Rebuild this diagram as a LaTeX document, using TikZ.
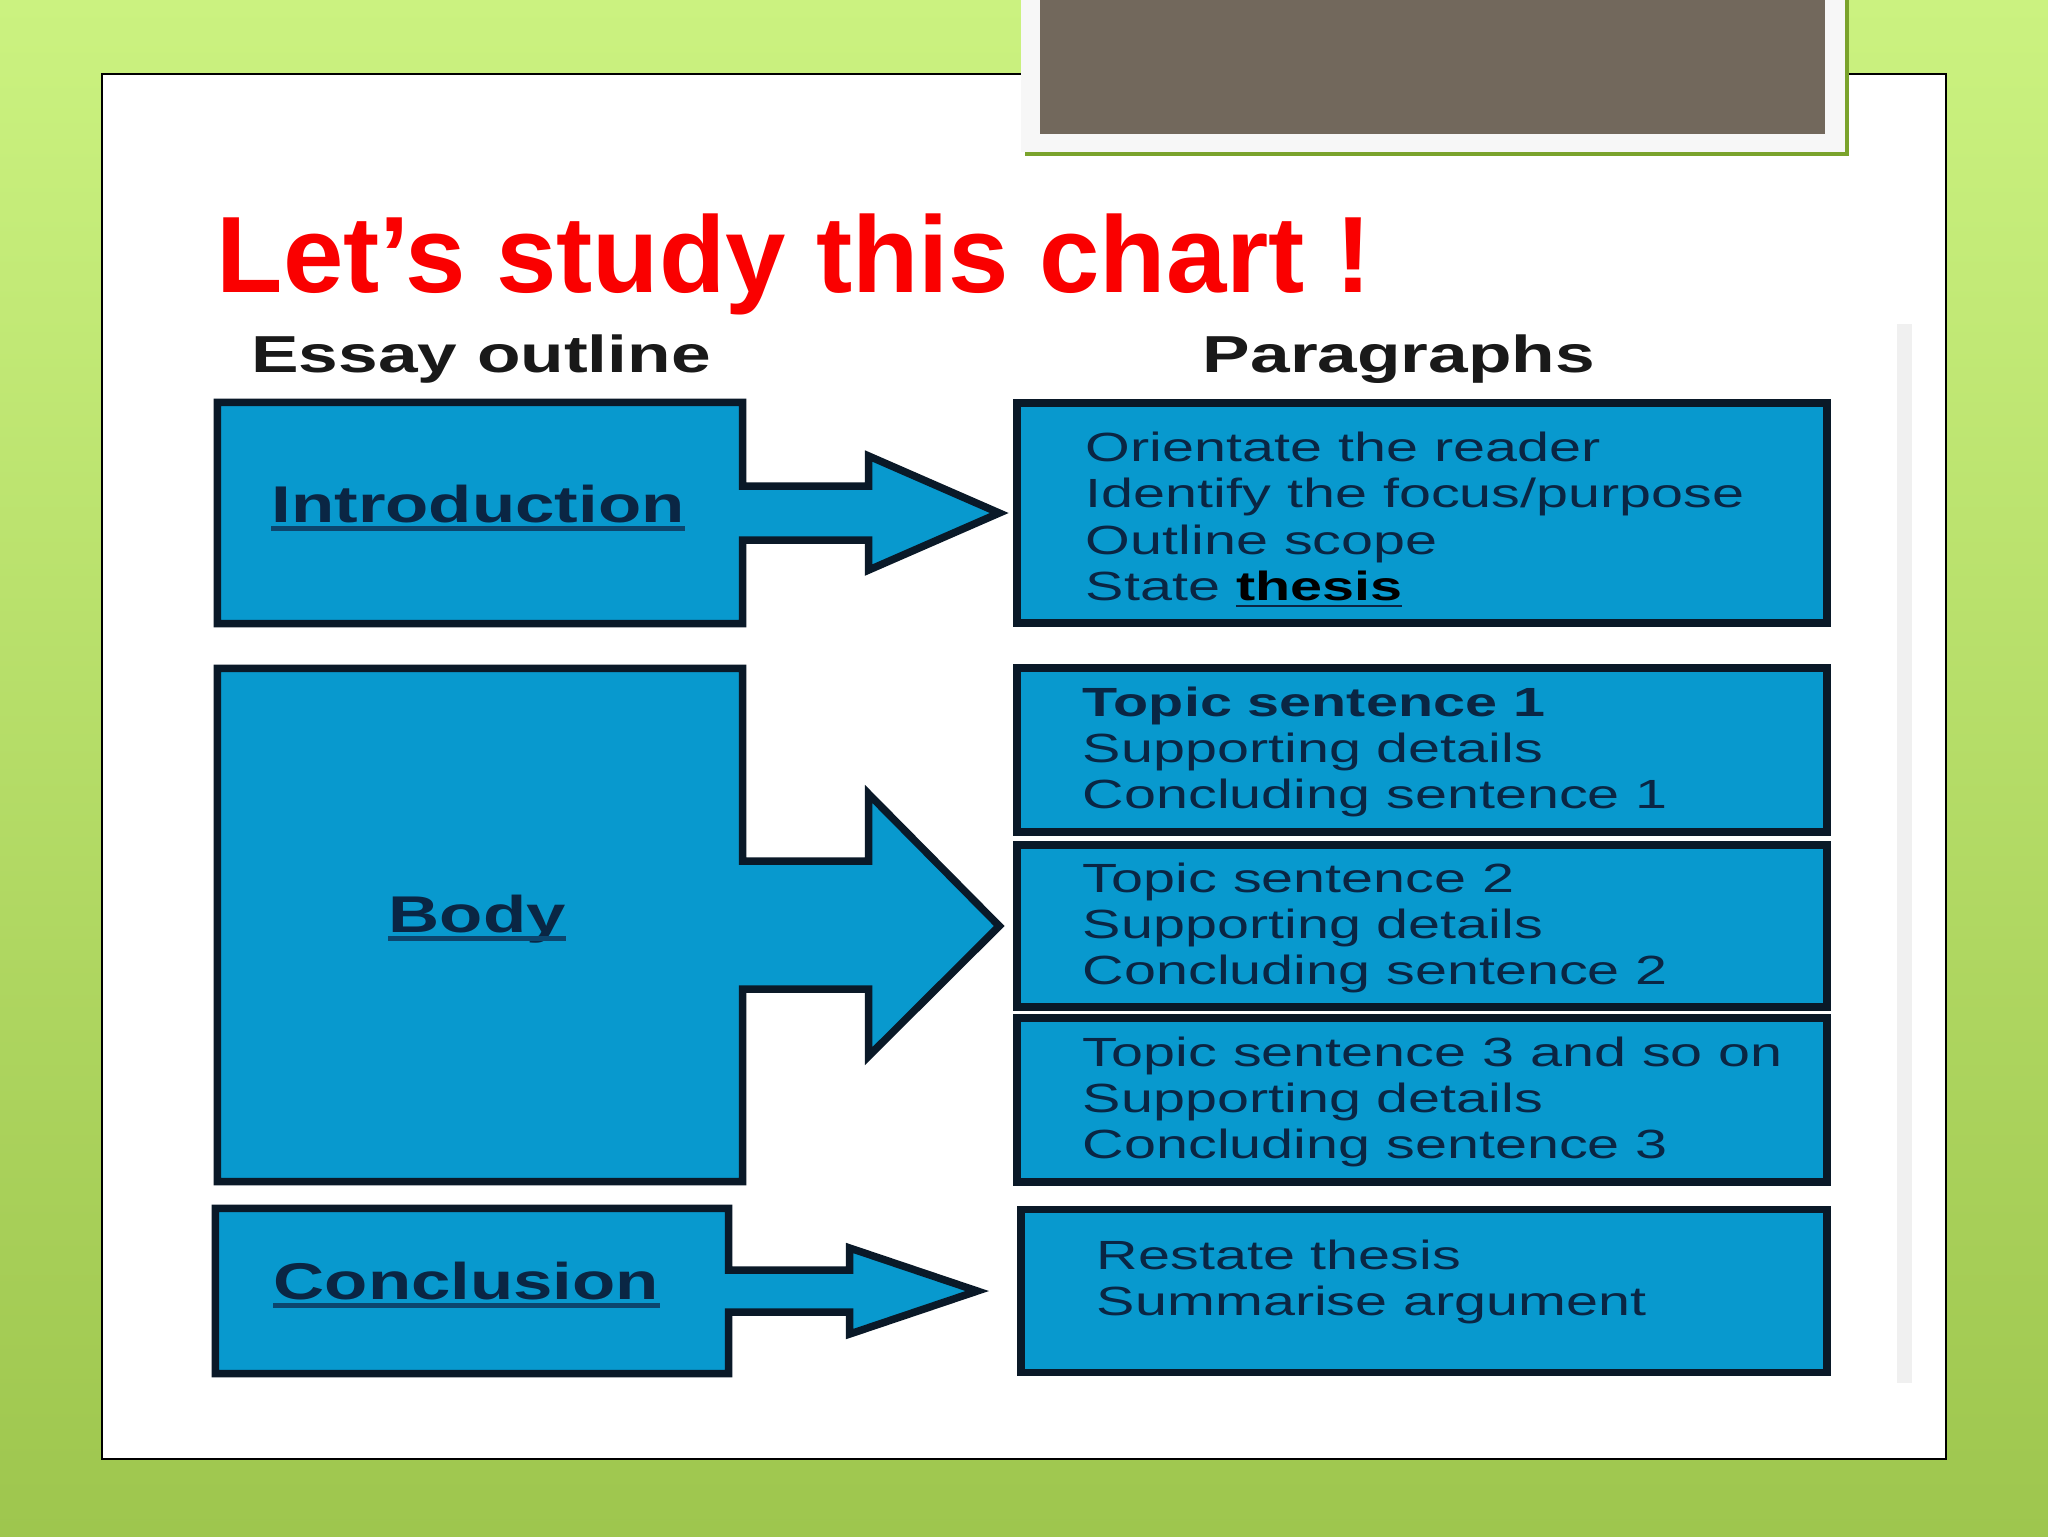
\documentclass[tikz,border=0pt]{standalone}
\usepackage{fontspec}
\setmainfont{Liberation Sans}
\newfontfamily\widefont[FakeStretch=1.37]{Liberation Sans}
\newfontfamily\parafont[FakeStretch=1.41]{Liberation Sans}
\usetikzlibrary{positioning, calc}

\definecolor{boxblue}{RGB}{8,153,206}
\definecolor{boxline}{RGB}{10,25,40}
\definecolor{boxtext}{RGB}{10,38,68}
\definecolor{ulblue}{RGB}{12,70,110}
\definecolor{titlered}{RGB}{250,0,0}
\definecolor{slidetop}{RGB}{203,242,128}
\definecolor{slidebot}{RGB}{158,198,78}
\definecolor{framegray}{RGB}{114,104,92}
\definecolor{frameshadow}{RGB}{122,163,44}

\pgfdeclarelayer{back}
\pgfdeclarelayer{shapes}
\pgfsetlayers{back,shapes,main}

\begin{document}
\begin{tikzpicture}[x=0.1mm, y=-0.1mm,
    outline/.style={fill=boxblue, draw=boxline, line width=0.75mm, line join=miter},
    leftbox/.style={minimum width=52.4mm, inner sep=0pt},
    rightbox/.style={outline, minimum width=81mm, inner sep=0pt},
    lefttext/.style={anchor=base west, inner sep=0pt, text=boxtext, font=\widefont\bfseries\fontsize{14.7}{17}\selectfont},
    paratext/.style={anchor=west, inner sep=0pt, align=left, text=boxtext, font=\parafont\fontsize{11.6}{13.2}\selectfont},
    heading/.style={anchor=base, inner sep=0pt, text=black!90, font=\widefont\bfseries\fontsize{14.8}{16}\selectfont},
    uline/.style={draw=ulblue, line width=0.5mm}]
        \useasboundingbox (0,0) rectangle (2048,1536);

        % Slide background and photo frame
        \begin{pgfonlayer}{back}
            \shade[top color=slidetop, bottom color=slidebot] (0,0) rectangle (2048,1536);
            \fill[white] (102,74) rectangle (1946,1459);
            \draw[black, line width=0.25mm] (102,74) rectangle (1946,1459);
            \fill[black!6] (1897,324) rectangle (1912,1383);
            \fill[frameshadow] (1025,0) rectangle (1849,156);
            \fill[black!3] (1021,0) rectangle (1845,152);
            \fill[framegray] (1040,0) rectangle (1825,134);
        \end{pgfonlayer}

        \node[anchor=base west, inner sep=0pt, text=titlered, font=\bfseries\fontsize{30.9}{32}\selectfont] (title) at (216,292) {Let’s study this chart !};

        \node[heading] (outlinehd) at (481,372) {Essay outline};
        \node[heading] (parahd) at (1399,372) {Paragraphs};

        % Essay outline column
        \node[leftbox, minimum height=22mm] (intro) at (480,513) {};
        \node[leftbox, minimum height=51.2mm] (body) at (480,925) {};
        \node[leftbox, minimum width=51.2mm, minimum height=16.4mm] (concl) at (472,1291) {};

        % Paragraphs column
        \node[rightbox, minimum height=22mm] (introR) at (1422,513) {};
        \node[rightbox, minimum height=16.4mm] (b1) at (1422,750) {};
        \node[rightbox, minimum height=16.2mm] (b2) at (1422,926) {};
        \node[rightbox, minimum height=16.4mm] (b3) at (1422,1100) {};
        \node[rightbox, minimum width=80.6mm, minimum height=16.3mm] (concR) at (1424,1291) {};

        % Boxes with block arrows
        \begin{pgfonlayer}{shapes}
            \draw[outline] (intro.north west) -- (intro.north east) -- ($(intro.east)+(0,-27)$)
                -- ($(intro.east)+(126,-27)$) -- ($(intro.east)+(126,-57)$) -- ($(introR.west)+(-14,0)$)
                -- ($(intro.east)+(126,57)$) -- ($(intro.east)+(126,27)$) -- ($(intro.east)+(0,27)$)
                -- (intro.south east) -- (intro.south west) -- cycle;
            \draw[outline] (body.north west) -- (body.north east) -- ($(body.east)+(0,-64)$)
                -- ($(body.east)+(126,-64)$) -- ($(body.east)+(126,-131)$) -- ($(b2.west)+(-14,0)$)
                -- ($(body.east)+(126,131)$) -- ($(body.east)+(126,64)$) -- ($(body.east)+(0,64)$)
                -- (body.south east) -- (body.south west) -- cycle;
            \draw[outline] (concl.north west) -- (concl.north east) -- ($(concl.east)+(0,-21)$)
                -- ($(concl.east)+(121,-21)$) -- ($(concl.east)+(121,-43)$) -- ($(concR.west)+(-40,0)$)
                -- ($(concl.east)+(121,43)$) -- ($(concl.east)+(121,21)$) -- ($(concl.east)+(0,21)$)
                -- (concl.south east) -- (concl.south west) -- cycle;
        \end{pgfonlayer}

        % Labels
        \node[lefttext] (introlbl) at (271,522) {Introduction};
        \node[lefttext] (bodylbl) at (388,932) {Body};
        \node[lefttext] (concllbl) at (273,1299) {Conclusion};
        \draw[uline] ($(introlbl.base west)+(0,6)$) -- ($(introlbl.base east)+(0,6)$);
        \draw[uline] ($(bodylbl.base west)+(0,6)$) -- ($(bodylbl.base east)+(0,6)$);
        \draw[uline] ($(concllbl.base west)+(0,6)$) -- ($(concllbl.base east)+(0,6)$);

        \node[paratext] (introtxt) at ($(introR.west)+(72,7)$) {Orientate the reader\\Identify the focus/purpose\\Outline scope\\State \underline{\textbf{\color{black}thesis}}};
        \node[paratext] (b1txt) at ($(b1.west)+(69,2)$) {\textbf{Topic sentence 1}\\Supporting details\\Concluding sentence 1};
        \node[paratext] (b2txt) at ($(b2.west)+(69,2)$) {Topic sentence 2\\Supporting details\\Concluding sentence 2};
        \node[paratext] (b3txt) at ($(b3.west)+(69,2)$) {Topic sentence 3 and so on\\Supporting details\\Concluding sentence 3};
        \node[paratext] (concRtxt) at ($(concR.west)+(79,-9)$) {Restate thesis\\Summarise argument};
\end{tikzpicture}
\end{document}
